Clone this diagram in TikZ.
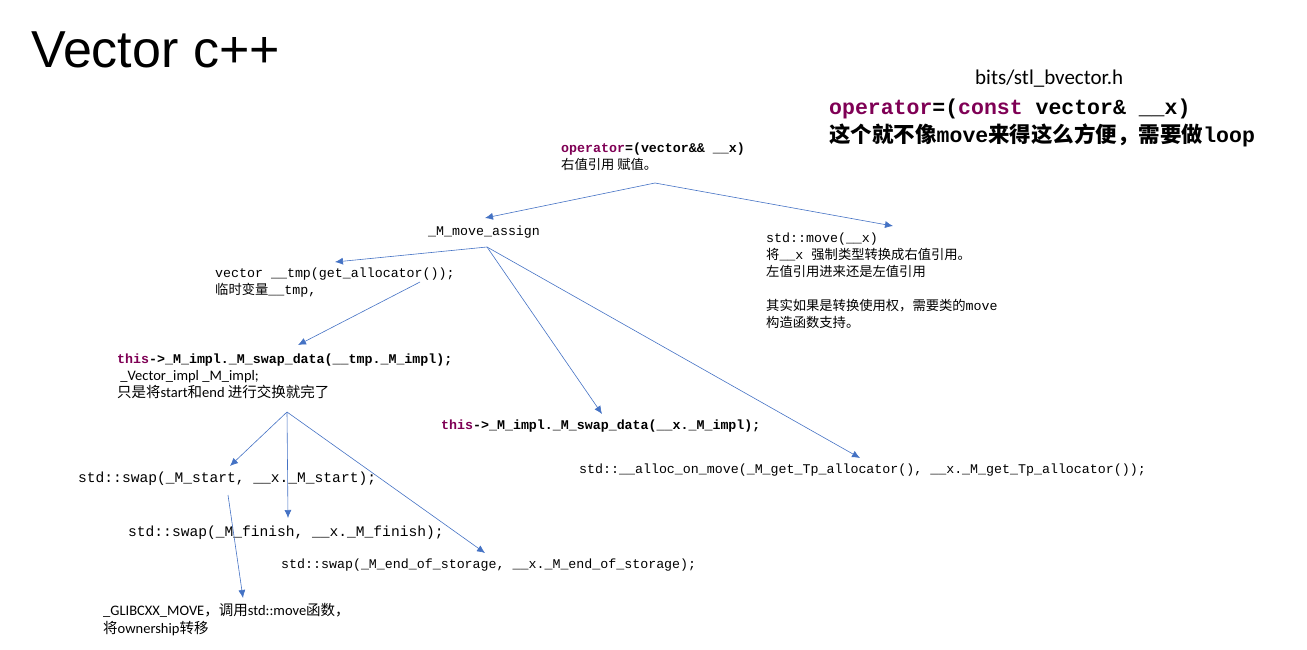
\documentclass[tikz,border=0pt]{standalone}
\usepackage{fontspec}
\setmainfont{Carlito}
\setmonofont{Liberation Mono}
\newfontfamily\cjk{Noto Sans CJK SC}
\newfontfamily\titlefont{Liberation Sans}
\definecolor{kw}{RGB}{127,0,85}
\definecolor{ar}{RGB}{68,114,196}
\usetikzlibrary{arrows.meta}
\begin{document}
\begin{tikzpicture}[x=1pt,y=-1pt,
  txt/.style={anchor=north west,inner sep=0,align=left,font=\fontsize{13.3}{17}\selectfont},
  big/.style={font=\fontsize{14.6}{17}\selectfont},
  arr/.style={draw=ar,-{Latex[length=8pt,width=7pt]},line width=0.6pt}]
\useasboundingbox (0,0) rectangle (1307,650);
\node[anchor=west,inner sep=0,font=\fontsize{52}{56}\selectfont\titlefont] (title) at (31,50) {Vector c++};
\node[anchor=west,inner sep=0,font=\fontsize{21}{24}\selectfont] (file) at (975,79) {bits/stl\_bvector.h};
\node[txt,font=\fontsize{21.5}{28}\selectfont] (opc) at (829,99) {\ttfamily\bfseries\textcolor{kw}{operator}=(\textcolor{kw}{const} vector\& \_\_x)\\{\cjk\bfseries 这个就不像}\ttfamily\bfseries move{\cjk\bfseries 来得这么方便，需要做}\ttfamily\bfseries loop};
\node[txt] (op) at (561,143) {\ttfamily\bfseries\textcolor{kw}{operator}=(vector\&\& \_\_x)\\{\cjk 右值引用 赋值。}};
\node[txt] (ma) at (428,226) {\ttfamily\_M\_move\_assign};
\node[txt] (mv) at (766,233) {\ttfamily std::move(\_\_x)\\{\cjk 将}\ttfamily\_\_x {\cjk 强制类型转换成右值引用。}\\{\cjk 左值引用进来还是左值引用}\\[17pt]{\cjk 其实如果是转换使用权，需要类的}\ttfamily move\\{\cjk 构造函数支持。}};
\node[txt] (tmp) at (215,268) {\ttfamily vector \_\_tmp(get\_allocator());\\{\cjk 临时变量}\ttfamily\_\_tmp,};
\node[txt] (sw1) at (117,354) {\ttfamily\bfseries\textcolor{kw}{this}->\_M\_impl.\_M\_swap\_data(\_\_tmp.\_M\_impl);\\{\fontsize{14.5}{17}\selectfont\ \_Vector\_impl \_M\_impl;}\\{\fontsize{14.5}{17}\selectfont{\cjk 只是将}start{\cjk 和}end {\cjk 进行交换就完了}}};
\node[txt] (sw2) at (441,420) {\ttfamily\bfseries\textcolor{kw}{this}->\_M\_impl.\_M\_swap\_data(\_\_x.\_M\_impl);};
\node[txt] (al) at (579,464) {\ttfamily std::\_\_alloc\_on\_move(\_M\_get\_Tp\_allocator(), \_\_x.\_M\_get\_Tp\_allocator());};
\node[txt,big] (s1) at (78,472) {\ttfamily std::swap(\_M\_start, \_\_x.\_M\_start);};
\node[txt,big] (s2) at (128,526) {\ttfamily std::swap(\_M\_finish, \_\_x.\_M\_finish);};
\node[txt] (s3) at (281,559) {\ttfamily std::swap(\_M\_end\_of\_storage, \_\_x.\_M\_end\_of\_storage);};
\node[txt,font=\fontsize{14.5}{18}\selectfont] (gl) at (103,603) {\_GLIBCXX\_MOVE{\cjk ，}{\cjk 调用}std::move{\cjk 函数，}\\{\cjk 将}ownership{\cjk 转移}};
\coordinate (p0) at (655,183);
\coordinate (p1) at (487,247);
\coordinate (p2) at (420,282);
\coordinate (p3) at (287,412);
\coordinate (p4) at (228,495);
\draw[arr] (p0) -- (485,218) coordinate (e1);
\draw[arr] (p0) -- (893,226) coordinate (e2);
\draw[arr] (p1) -- (335,262);
\draw[arr] (p2) -- (298,345);
\draw[arr] (p1) -- (602,414);
\draw[arr] (p1) -- (860,458);
\draw[arr] (p3) -- (230,466);
\draw[arr] (p3) -- (288,518);
\draw[arr] (p3) -- (485,553);
\draw[arr] (p4) -- (243,598);
\end{tikzpicture}
\end{document}
